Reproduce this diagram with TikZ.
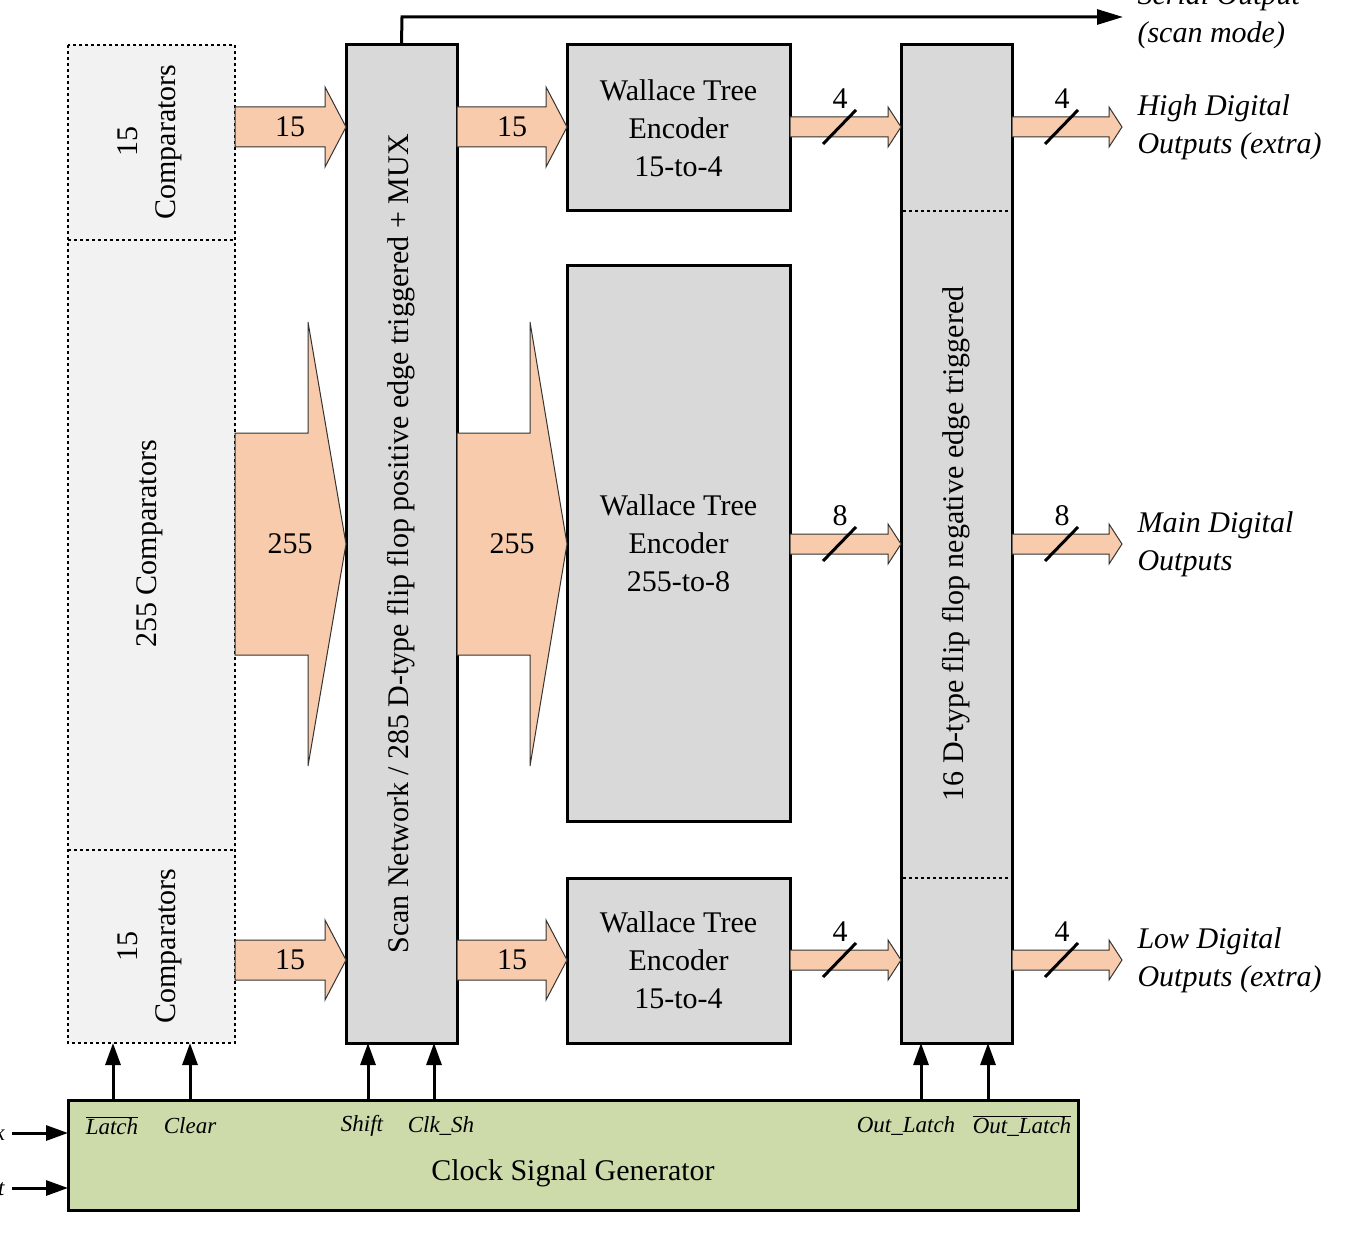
\documentclass[tikz,border=0pt]{standalone}
\usepackage{fontspec}
\setmainfont{Liberation Serif}
\usetikzlibrary{arrows.meta}
\definecolor{fat}{HTML}{F8CBAD}
\definecolor{lg}{HTML}{F2F2F2}
\definecolor{dg}{HTML}{D9D9D9}
\definecolor{cg}{HTML}{CDDBAB}
\tikzset{
 blk/.style={draw,line width=3pt,fill=dg},
 cmp/.style={draw,line width=2.4pt,dash pattern=on 3pt off 3pt,fill=lg},
 fa/.style={draw=black!80,line width=1pt,fill=fat},
 txt/.style={font=\fontsize{30}{38}\selectfont,align=center},
 itl/.style={font=\fontsize{30}{38}\selectfont\itshape,align=left},
 sig/.style={font=\fontsize{23}{27}\selectfont\itshape},
 ctl/.style={line width=3pt,-{Triangle[length=22pt,width=15pt]}},
 sl/.style={line width=3pt}
}
\newcommand{\fatarr}[6]{% x1 x2 yc halfshaft halfhead headbase
 \draw[fa] (#1,#3-#4) -- (#6,#3-#4) -- (#6,#3-#5) -- (#2,#3) -- (#6,#3+#5) -- (#6,#3+#4) -- (#1,#3+#4) -- cycle;}
\begin{document}
\begin{tikzpicture}[x=1pt,y=-1pt]
\useasboundingbox (0,0) rectangle (1356,1238);
% comparators
\draw[cmp] (68,45) rectangle (235,1043);
\draw[line width=2.4pt,dash pattern=on 3pt off 3pt] (68,240) -- (235,240) (68,850) -- (235,850);
\node[txt,rotate=90] (c1) at (150,142) {15\\Comparators};
\node[txt,rotate=90] (c2) at (150,544) {255 Comparators};
\node[txt,rotate=90] (c3) at (150,946) {15\\Comparators};
% scan
\node[blk,minimum width=111pt,minimum height=998pt,inner sep=0] (scan) at (401.5,544) {};
\node[txt,rotate=90] at (scan.center) {Scan Network / 285 D-type flip flop positive edge triggered + MUX};
% encoders
\node[blk,minimum width=223pt,minimum height=166pt,inner sep=0,txt] (w1) at (678.5,128) {Wallace Tree\\Encoder\\15-to-4};
\node[blk,minimum width=223pt,minimum height=555pt,inner sep=0,txt] (w2) at (678.5,543.5) {Wallace Tree\\Encoder\\255-to-8};
\node[blk,minimum width=223pt,minimum height=165pt,inner sep=0,txt] (w3) at (678.5,960.5) {Wallace Tree\\Encoder\\15-to-4};
% output FF
\node[blk,minimum width=111pt,minimum height=998pt,inner sep=0] (ff) at (956.5,544) {};
\draw[line width=2.4pt,dash pattern=on 3pt off 3pt] (903,211) -- (1010,211) (903,878) -- (1010,878);
\node[txt,rotate=90] at (ff.center) {16 D-type flip flop negative edge triggered};
% fat arrows
\fatarr{235}{346}{127}{20}{40}{325}
\fatarr{457}{567}{127}{20}{40}{546}
\fatarr{235}{346}{960}{20}{40}{325}
\fatarr{457}{567}{960}{20}{40}{546}
\fatarr{235}{346}{544}{111}{222}{308}
\fatarr{457}{567}{544}{111}{222}{530}
\node[txt] at (290,127) {15};
\node[txt] at (512,127) {15};
\node[txt] at (290,960) {15};
\node[txt] at (512,960) {15};
\node[txt] at (290,544) {255};
\node[txt] at (512,544) {255};
% small arrows with slashes
\foreach \xa/\xb/\yc/\n in {790/901/127/4,1012/1122/127/4,790/901/544/8,1012/1122/544/8,790/901/960/4,1012/1122/960/4}{
 \fatarr{\xa}{\xb}{\yc}{10}{20}{\xb-13}
 \draw[sl] (\xa+33,\yc+17) -- (\xa+66,\yc-17);
 \node[txt] at (\xa+50,\yc-28) {\n};
}
\node[itl,anchor=west] at (1134,127) {High Digital\\Outputs (extra)};
\node[itl,anchor=west] at (1134,544) {Main Digital\\Outputs};
\node[itl,anchor=west] at (1134,960) {Low Digital\\Outputs (extra)};
% serial output
\coordinate (so) at (1123,17);
\draw[line width=3pt,-{Triangle[length=26pt,width=15pt]}] (scan.north) -- (402,17) -- (so);
\node[itl,anchor=west] at (1134,16) {Serial Output\\(scan mode)};
% clock generator
\node[draw,line width=3pt,fill=cg,minimum width=1010pt,minimum height=110pt,inner sep=0] (clk) at (573,1155) {};
\node[txt] at (573,1173) {Clock Signal Generator};
\foreach \x in {113,190,368,434,921,988}{
 \draw[ctl] (\x,1100) -- (\x,1043);
}
\node[sig] at (112,1126) {$\overline{\mbox{\itshape Latch}}$};
\node[sig] at (190,1126) {Clear};
\node[sig] at (362,1126) {Shift};
\node[sig] at (441,1126) {Clk\_Sh};
\node[sig] at (906,1126) {Out\_Latch};
\node[sig] at (1022,1126) {$\overline{\mbox{\itshape Out\_Latch}}$};
% left inputs
\coordinate (i1) at (12,1133);
\coordinate (i2) at (12,1188);
\draw[ctl] (i1) -- (68,1133);
\draw[ctl] (i2) -- (68,1188);
\node[sig,anchor=east] at (8,1133) {Clock};
\node[sig,anchor=east] at (8,1188) {Reset};
\end{tikzpicture}
\end{document}
